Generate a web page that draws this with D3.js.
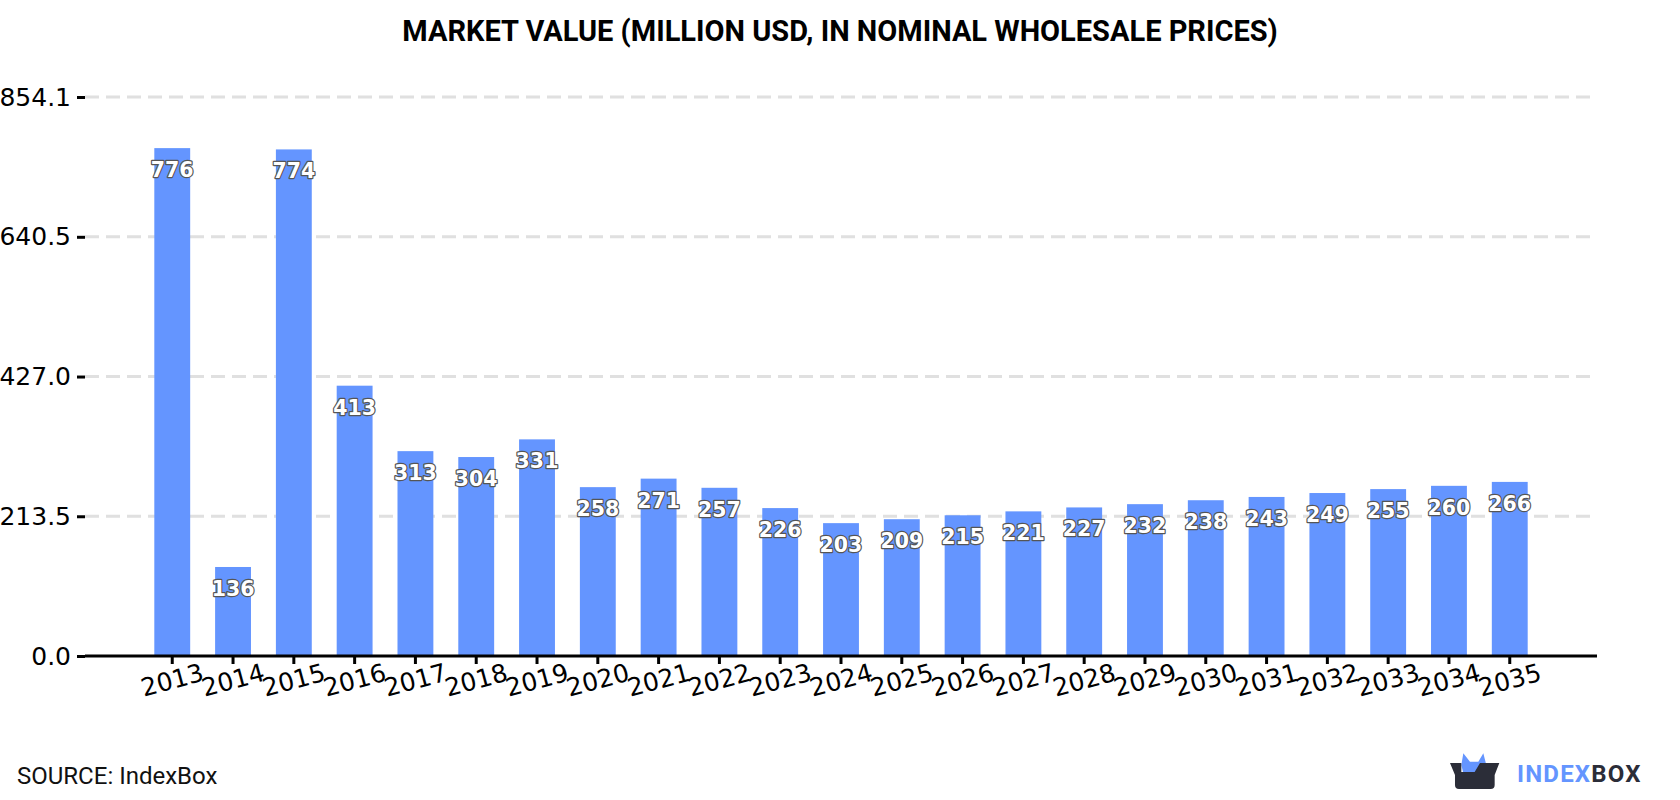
<!DOCTYPE html>
<html>
<head>
<meta charset="utf-8">
<script src="https://cdnjs.cloudflare.com/ajax/libs/d3/7.8.5/d3.min.js"></script>
<style>
html,body{margin:0;padding:0;background:#fff;overflow:hidden}
svg{display:block}
</style>
</head>
<body>
<svg id="chart" width="1680" height="800"></svg>
<script>
const years = ["2013","2014","2015","2016","2017","2018","2019","2020","2021","2022","2023","2024","2025","2026","2027","2028","2029","2030","2031","2032","2033","2034","2035"];
const marketValue = [776,136,774,413,313,304,331,258,271,257,226,203,209,215,221,227,232,238,243,249,255,260,266];
const yTicks = [0,213.5,427.0,640.5,854.1];
const yTickLabels = ["0.0","213.5","427.0","640.5","854.1"];
const titleText = "MARKET VALUE (MILLION USD, IN NOMINAL WHOLESALE PRICES)";
const sourceText = "SOURCE: IndexBox";

const svg = d3.select("#chart");
const plotLeft = 85, plotRight = 1597, plotTop = 97, plotBottom = 656;

const x = d3.scaleBand().domain(years).range([plotLeft, plotRight]).paddingInner(0.41).paddingOuter(1.14);
const y = d3.scaleLinear().domain([0, 854.1]).range([plotBottom, plotTop]);
const tickFont = "DejaVu Sans, sans-serif";

svg.append("text").attr("x", 840).attr("y", 41).attr("text-anchor", "middle")
  .attr("font-family", "Roboto, sans-serif").attr("font-weight", 700).attr("font-size", 29)
  .attr("fill", "#000").text(titleText);

// dashed horizontal guides
svg.append("g").selectAll("line").data(yTicks.slice(1)).join("line")
  .attr("x1", plotLeft).attr("x2", plotRight)
  .attr("y1", d => y(d)).attr("y2", d => y(d))
  .attr("stroke", "#e0e0e0").attr("stroke-width", 3).attr("stroke-dasharray", "14,7");

// bars
svg.append("g").selectAll("rect").data(marketValue).join("rect")
  .attr("x", (d, i) => x(years[i]))
  .attr("width", x.bandwidth())
  .attr("y", d => y(d))
  .attr("height", d => plotBottom - y(d))
  .attr("fill", "#6495ff");

// value axis
const yAxis = d3.axisLeft(y).tickValues(yTicks).tickFormat((d, i) => yTickLabels[i]).tickSize(8).tickPadding(6);
const gy = svg.append("g").attr("transform", `translate(${plotLeft},0)`).call(yAxis);
gy.select(".domain").remove();
gy.selectAll(".tick line").attr("stroke", "#000").attr("stroke-width", 3);
gy.selectAll("text").attr("font-family", tickFont).attr("font-size", 25).attr("fill", "#000");

// category axis
const xAxis = d3.axisBottom(x).tickSize(8).tickSizeOuter(0).tickPadding(6);
const gx = svg.append("g").attr("transform", `translate(0,${plotBottom})`).call(xAxis);
gx.select(".domain").attr("stroke", "#000").attr("stroke-width", 3)
  .attr("d", `M${plotLeft},0H${plotRight}`);
gx.selectAll(".tick line").attr("stroke", "#000").attr("stroke-width", 3);
gx.selectAll("text")
  .attr("font-family", tickFont).attr("font-size", 25).attr("fill", "#000")
  .attr("text-anchor", "middle")
  .attr("transform", "translate(0,24) rotate(-15)")
  .attr("y", 0).attr("dy", "0.35em");

// value labels inside the top of each bar
svg.append("g").selectAll("text").data(marketValue).join("text")
  .attr("x", (d, i) => x(years[i]) + x.bandwidth() / 2)
  .attr("y", d => y(d) + 29)
  .attr("text-anchor", "middle")
  .attr("font-family", tickFont).attr("font-weight", 700).attr("font-size", 20.5)
  .attr("fill", "#fff").attr("stroke", "#555").attr("stroke-width", 2.4)
  .attr("paint-order", "stroke").attr("stroke-linejoin", "round")
  .text(d => d);

svg.append("text").attr("x", 17).attr("y", 784)
  .attr("font-family", "Roboto, sans-serif").attr("font-size", 24).attr("fill", "#111")
  .text(sourceText);

// brand mark
const logo = svg.append("g").attr("transform", "translate(1400,720) scale(0.3333)");
logo.append("path").attr("fill", "#6495ff")
  .attr("d", "M184,135L190,100L210,125H235L250,100L259,135L240,160H190Z");
logo.append("path").attr("fill", "#2b2d38")
  .attr("d", "M150,129H184V156H224L240,129H298L284,165V195Q284,207 272,207H177Q165,207 165,195V165Z");

const wordmark = svg.append("text").attr("x", 1517).attr("y", 782)
  .attr("font-family", "Roboto, sans-serif").attr("font-weight", 700).attr("font-size", 24)
  .attr("letter-spacing", 1.2);
wordmark.append("tspan").attr("fill", "#6495ff").text("INDEX");
wordmark.append("tspan").attr("fill", "#2b2d38").text("BOX");
</script>
</body>
</html>
